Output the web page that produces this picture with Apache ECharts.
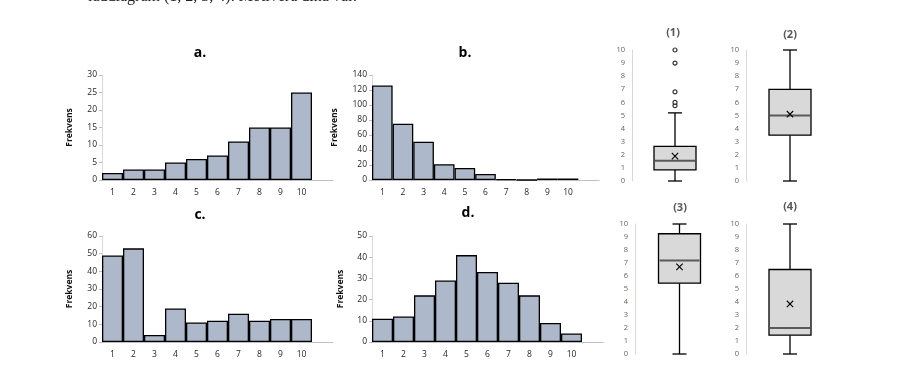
<!DOCTYPE html>
<html><head><meta charset="utf-8">
<script src="https://cdn.jsdelivr.net/npm/echarts@6/dist/echarts.min.js"></script>
<style>html,body{margin:0;padding:0;background:#fff}#c{width:904px;height:372px}</style>
</head><body><div id="c"></div>
<script>
// ---- data ----
const binLabels = ['1','2','3','4','5','6','7','8','9','10',''];
const histA = [2,3,3,5,6,7,11,15,15,25];
const histB = [126,75,51,21,16,8,1,0,2,2];
const histC = [49,53,4,19,11,12,16,12,13,13];
const histD = [11,12,22,29,41,33,28,22,9,4];
const histTitles = ['a.','b.','c.','d.'];
const histMax = [30,140,60,50];
const histInterval = [5,20,10,10];
const yName = 'Frekvens';
// box stats: [min, q1, median, q3, upper whisker], mean, outliers
const box1 = [0,0.85,1.55,2.65,5.2]; const mean1 = 1.9; const out1 = [5.75,6.0,6.8,9.0,10];
const box2 = [0,3.5,5.0,7.0,10];     const mean2 = 5.1; const out2 = [];
const box3 = [0,5.45,7.2,9.25,10];   const mean3 = 6.7; const out3 = [];
const box4 = [0,1.45,2.0,6.5,10];    const mean4 = 3.85; const out4 = [];
const boxTitles = ['(1)','(2)','(3)','(4)'];

// ---- layout ----
const histGrids = [
  {left:102, top:75, width:231, height:105},
  {left:372, top:75, width:227, height:105},
  {left:102, top:236, width:231, height:106},
  {left:372, top:236, width:231, height:106}
];
const boxGrids = [
  {left:632, top:50, width:86, height:131},
  {left:746, top:50, width:88, height:131},
  {left:635, top:224, width:89, height:130},
  {left:746, top:224, width:88, height:130}
];
const histTitlePos = [[200,53],[465,53],[200,215],[468,213]];
const boxTitlePos = [[673,33],[790,35],[680,208],[790,207]];
const nameGaps = [28,33,28,27];

const hists = [histA,histB,histC,histD];
const boxes = [[box1,mean1,out1],[box2,mean2,out2],[box3,mean3,out3],[box4,mean4,out4]];
const font = 'Open Sans';

const grid = [], xAxis = [], yAxis = [], series = [], graphic = [];

hists.forEach((h,i)=>{
  grid.push(histGrids[i]);
  xAxis.push({type:'category', gridIndex:i, data:binLabels, boundaryGap:true,
    axisLine:{lineStyle:{color:'#bfbfbf',width:1}}, axisTick:{show:false},
    axisLabel:{fontSize:8.5, color:'#262626', margin:8, fontFamily:font, interval:0}});
  yAxis.push({type:'value', gridIndex:i, min:0, max:histMax[i], interval:histInterval[i],
    name:yName, nameLocation:'middle', nameRotate:90, nameGap:nameGaps[i],
    nameTextStyle:{fontSize:8.5, fontWeight:'bold', color:'#111', fontFamily:font},
    axisLine:{show:true, lineStyle:{color:'#d9d9d9'}},
    axisTick:{show:true, length:3, lineStyle:{color:'#bfbfbf'}},
    splitLine:{show:false},
    axisLabel:{fontSize:8.5, color:'#262626', margin:5, fontFamily:font}});
  series.push({type:'bar', xAxisIndex:i, yAxisIndex:i, data:h, barWidth:'100%', barCategoryGap:'0%',
    itemStyle:{color:'#adb9ca', borderColor:'#000', borderWidth:1.3}, silent:true});
  graphic.push({type:'text', x:histTitlePos[i][0], y:histTitlePos[i][1],
    style:{text:histTitles[i], font:'bold 14px "Open Sans"', fill:'#000', align:'center', verticalAlign:'middle'}});
});

function renderBox(params, api){
  const x = api.value(0);
  const p = k => api.coord([x, api.value(k)]);
  const mn=p(1), q1=p(2), md=p(3), q3=p(4), mx=p(5), me=p(6);
  const cx = mn[0], hw = 21, cw = 7, m = 3.2;
  const ls = {stroke:'#000', lineWidth:1.3};
  return {type:'group', children:[
    {type:'line', shape:{x1:cx,y1:mx[1],x2:cx,y2:q3[1]}, style:ls},
    {type:'line', shape:{x1:cx,y1:q1[1],x2:cx,y2:mn[1]}, style:ls},
    {type:'line', shape:{x1:cx-cw,y1:mx[1],x2:cx+cw,y2:mx[1]}, style:ls},
    {type:'line', shape:{x1:cx-cw,y1:mn[1],x2:cx+cw,y2:mn[1]}, style:ls},
    {type:'rect', shape:{x:cx-hw,y:q3[1],width:2*hw,height:q1[1]-q3[1]}, style:{fill:'#d9d9d9',stroke:'#000',lineWidth:1.3}},
    {type:'line', shape:{x1:cx-hw+1,y1:md[1],x2:cx+hw-1,y2:md[1]}, style:{stroke:'#595959',lineWidth:2}},
    {type:'line', shape:{x1:cx-m,y1:me[1]-m,x2:cx+m,y2:me[1]+m}, style:{stroke:'#000',lineWidth:1.1}},
    {type:'line', shape:{x1:cx-m,y1:me[1]+m,x2:cx+m,y2:me[1]-m}, style:{stroke:'#000',lineWidth:1.1}}
  ]};
}

boxes.forEach((b,j)=>{
  const gi = 4+j;
  grid.push(boxGrids[j]);
  xAxis.push({type:'category', gridIndex:gi, data:[boxTitles[j]], boundaryGap:true,
    axisLine:{show:false}, axisTick:{show:false}, axisLabel:{show:false}});
  yAxis.push({type:'value', gridIndex:gi, min:0, max:10, interval:1,
    axisLine:{show:true, lineStyle:{color:'#d9d9d9'}}, axisTick:{show:false}, splitLine:{show:false},
    axisLabel:{fontSize:7.5, color:'#6b5f52', margin:7, fontFamily:font}});
  series.push({type:'custom', xAxisIndex:gi, yAxisIndex:gi, renderItem:renderBox,
    data:[[0, ...b[0], b[1]]], silent:true});
  if (b[2].length) series.push({type:'scatter', xAxisIndex:gi, yAxisIndex:gi,
    data:b[2].map(v=>[0,v]), symbol:'circle', symbolSize:4,
    itemStyle:{color:'#fff', borderColor:'#000', borderWidth:1.2}, silent:true});
  graphic.push({type:'text', x:boxTitlePos[j][0], y:boxTitlePos[j][1],
    style:{text:boxTitles[j], font:'bold 11px "Open Sans"', fill:'#595959', align:'center', verticalAlign:'middle'}});
});

graphic.push({type:'text', x:88, y:5,
  style:{text:'laddiagram (1, 2, 3, 4). Motivera dina val!', font:'16px "Liberation Serif"', fill:'#222', align:'left', verticalAlign:'bottom'}});

const chart = echarts.init(document.getElementById('c'), null, {renderer:'canvas'});
chart.setOption({animation:false, grid, xAxis, yAxis, series, graphic});
</script></body></html>
